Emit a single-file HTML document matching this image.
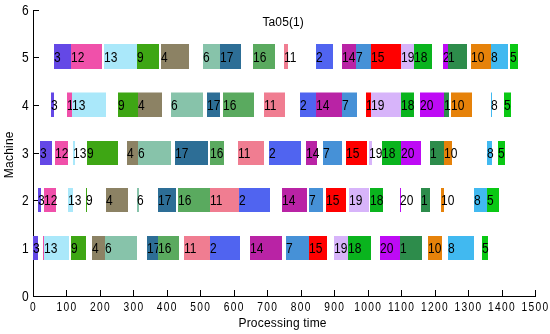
<!DOCTYPE html>
<html><head><meta charset="utf-8"><style>
html,body{margin:0;padding:0;background:#fff;}
body{width:550px;height:334px;overflow:hidden;}
svg{display:block;}
text{font-family:"Liberation Sans",sans-serif;font-size:12px;fill:#000;}
</style></head><body>
<svg width="550" height="334" viewBox="0 0 550 334">
<rect x="0" y="0" width="550" height="334" fill="#fff"/>
<g shape-rendering="crispEdges">
<rect x="33" y="10" width="1" height="287" fill="#000"/>
<rect x="33" y="296" width="503" height="1" fill="#000"/>
<rect x="33" y="296" width="6" height="1" fill="#000"/>
<text transform="translate(28.6,301) scale(1,1.15)" text-anchor="end">0</text>
<rect x="33" y="248" width="6" height="1" fill="#000"/>
<text transform="translate(28.6,253) scale(1,1.15)" text-anchor="end">1</text>
<rect x="33" y="200" width="6" height="1" fill="#000"/>
<text transform="translate(28.6,205) scale(1,1.15)" text-anchor="end">2</text>
<rect x="33" y="153" width="6" height="1" fill="#000"/>
<text transform="translate(28.6,158) scale(1,1.15)" text-anchor="end">3</text>
<rect x="33" y="105" width="6" height="1" fill="#000"/>
<text transform="translate(28.6,110) scale(1,1.15)" text-anchor="end">4</text>
<rect x="33" y="57" width="6" height="1" fill="#000"/>
<text transform="translate(28.6,62) scale(1,1.15)" text-anchor="end">5</text>
<rect x="33" y="10" width="6" height="1" fill="#000"/>
<text transform="translate(28.6,15) scale(1,1.15)" text-anchor="end">6</text>
<rect x="33" y="290" width="1" height="6" fill="#000"/>
<text transform="translate(33.50,311) scale(0.85,1)" text-anchor="middle" letter-spacing="1.57">0</text>
<rect x="66" y="290" width="1" height="6" fill="#000"/>
<text transform="translate(66.97,311) scale(0.85,1)" text-anchor="middle" letter-spacing="1.57">100</text>
<rect x="100" y="290" width="1" height="6" fill="#000"/>
<text transform="translate(100.43,311) scale(0.85,1)" text-anchor="middle" letter-spacing="1.57">200</text>
<rect x="133" y="290" width="1" height="6" fill="#000"/>
<text transform="translate(133.90,311) scale(0.85,1)" text-anchor="middle" letter-spacing="1.57">300</text>
<rect x="167" y="290" width="1" height="6" fill="#000"/>
<text transform="translate(167.37,311) scale(0.85,1)" text-anchor="middle" letter-spacing="1.57">400</text>
<rect x="200" y="290" width="1" height="6" fill="#000"/>
<text transform="translate(200.83,311) scale(0.85,1)" text-anchor="middle" letter-spacing="1.57">500</text>
<rect x="234" y="290" width="1" height="6" fill="#000"/>
<text transform="translate(234.30,311) scale(0.85,1)" text-anchor="middle" letter-spacing="1.57">600</text>
<rect x="267" y="290" width="1" height="6" fill="#000"/>
<text transform="translate(267.77,311) scale(0.85,1)" text-anchor="middle" letter-spacing="1.57">700</text>
<rect x="301" y="290" width="1" height="6" fill="#000"/>
<text transform="translate(301.23,311) scale(0.85,1)" text-anchor="middle" letter-spacing="1.57">800</text>
<rect x="334" y="290" width="1" height="6" fill="#000"/>
<text transform="translate(334.70,311) scale(0.85,1)" text-anchor="middle" letter-spacing="1.57">900</text>
<rect x="368" y="290" width="1" height="6" fill="#000"/>
<text transform="translate(368.17,311) scale(0.85,1)" text-anchor="middle" letter-spacing="1.57">1000</text>
<rect x="401" y="290" width="1" height="6" fill="#000"/>
<text transform="translate(401.63,311) scale(0.85,1)" text-anchor="middle" letter-spacing="1.57">1100</text>
<rect x="435" y="290" width="1" height="6" fill="#000"/>
<text transform="translate(435.10,311) scale(0.85,1)" text-anchor="middle" letter-spacing="1.57">1200</text>
<rect x="468" y="290" width="1" height="6" fill="#000"/>
<text transform="translate(468.57,311) scale(0.85,1)" text-anchor="middle" letter-spacing="1.57">1300</text>
<rect x="502" y="290" width="1" height="6" fill="#000"/>
<text transform="translate(502.03,311) scale(0.85,1)" text-anchor="middle" letter-spacing="1.57">1400</text>
<rect x="535" y="290" width="1" height="6" fill="#000"/>
<text transform="translate(535.50,311) scale(0.85,1)" text-anchor="middle" letter-spacing="1.57">1500</text>
</g>
<g>
<rect x="54" y="44.00" width="17" height="25.0" fill="#6448E6"/>
<text transform="translate(54,62) scale(1,1.15)">3</text>
<rect x="71" y="44.00" width="31" height="25.0" fill="#F050AA"/>
<text transform="translate(71,62) scale(1,1.15)">12</text>
<rect x="104" y="44.00" width="33" height="25.0" fill="#AAE8FA"/>
<text transform="translate(104,62) scale(1,1.15)">13</text>
<rect x="137" y="44.00" width="22" height="25.0" fill="#3EA614"/>
<text transform="translate(137,62) scale(1,1.15)">9</text>
<rect x="161" y="44.00" width="28" height="25.0" fill="#8C8264"/>
<text transform="translate(161,62) scale(1,1.15)">4</text>
<rect x="203" y="44.00" width="17" height="25.0" fill="#87C3AA"/>
<text transform="translate(203,62) scale(1,1.15)">6</text>
<rect x="220" y="44.00" width="21" height="25.0" fill="#2D6E96"/>
<text transform="translate(220,62) scale(1,1.15)">17</text>
<rect x="253" y="44.00" width="22" height="25.0" fill="#5AAA5F"/>
<text transform="translate(253,62) scale(1,1.15)">16</text>
<rect x="284" y="44.00" width="4" height="25.0" fill="#F07D91"/>
<text transform="translate(284,62) scale(1,1.15)">11</text>
<rect x="316" y="44.00" width="17" height="25.0" fill="#5064F0"/>
<text transform="translate(316,62) scale(1,1.15)">2</text>
<rect x="342" y="44.00" width="14" height="25.0" fill="#B923A5"/>
<text transform="translate(342,62) scale(1,1.15)">14</text>
<rect x="356" y="44.00" width="15" height="25.0" fill="#4691D7"/>
<text transform="translate(356,62) scale(1,1.15)">7</text>
<rect x="371" y="44.00" width="30" height="25.0" fill="#FF0000"/>
<text transform="translate(371,62) scale(1,1.15)">15</text>
<rect x="401" y="44.00" width="13" height="25.0" fill="#D7B4FA"/>
<text transform="translate(401,62) scale(1,1.15)">19</text>
<rect x="414" y="44.00" width="18" height="25.0" fill="#0AB41E"/>
<text transform="translate(414,62) scale(1,1.15)">18</text>
<rect x="443" y="44.00" width="5" height="25.0" fill="#BE0AF5"/>
<text transform="translate(443,62) scale(1,1.15)">20</text>
<rect x="448" y="44.00" width="19" height="25.0" fill="#2D8C4B"/>
<text transform="translate(448,62) scale(1,1.15)">1</text>
<rect x="471" y="44.00" width="20" height="25.0" fill="#E6820A"/>
<text transform="translate(471,62) scale(1,1.15)">10</text>
<rect x="491" y="44.00" width="17" height="25.0" fill="#41B9F0"/>
<text transform="translate(491,62) scale(1,1.15)">8</text>
<rect x="510" y="44.00" width="8" height="25.0" fill="#0AC814"/>
<text transform="translate(510,62) scale(1,1.15)">5</text>
<rect x="51" y="92.50" width="3" height="24.5" fill="#6448E6"/>
<text transform="translate(51,110) scale(1,1.15)">3</text>
<rect x="67" y="92.50" width="5" height="24.5" fill="#F050AA"/>
<text transform="translate(67,110) scale(1,1.15)">12</text>
<rect x="72" y="92.50" width="34" height="24.5" fill="#AAE8FA"/>
<text transform="translate(72,110) scale(1,1.15)">13</text>
<rect x="118" y="92.50" width="20" height="24.5" fill="#3EA614"/>
<text transform="translate(118,110) scale(1,1.15)">9</text>
<rect x="138" y="92.50" width="24" height="24.5" fill="#8C8264"/>
<text transform="translate(138,110) scale(1,1.15)">4</text>
<rect x="171" y="92.50" width="32" height="24.5" fill="#87C3AA"/>
<text transform="translate(171,110) scale(1,1.15)">6</text>
<rect x="207" y="92.50" width="13" height="24.5" fill="#2D6E96"/>
<text transform="translate(207,110) scale(1,1.15)">17</text>
<rect x="223" y="92.50" width="31" height="24.5" fill="#5AAA5F"/>
<text transform="translate(223,110) scale(1,1.15)">16</text>
<rect x="264" y="92.50" width="21" height="24.5" fill="#F07D91"/>
<text transform="translate(264,110) scale(1,1.15)">11</text>
<rect x="300" y="92.50" width="16" height="24.5" fill="#5064F0"/>
<text transform="translate(300,110) scale(1,1.15)">2</text>
<rect x="316" y="92.50" width="26" height="24.5" fill="#B923A5"/>
<text transform="translate(316,110) scale(1,1.15)">14</text>
<rect x="342" y="92.50" width="15" height="24.5" fill="#4691D7"/>
<text transform="translate(342,110) scale(1,1.15)">7</text>
<rect x="366" y="92.50" width="5" height="24.5" fill="#FF0000"/>
<text transform="translate(366,110) scale(1,1.15)">15</text>
<rect x="371" y="92.50" width="30" height="24.5" fill="#D7B4FA"/>
<text transform="translate(371,110) scale(1,1.15)">19</text>
<rect x="401" y="92.50" width="13" height="24.5" fill="#0AB41E"/>
<text transform="translate(401,110) scale(1,1.15)">18</text>
<rect x="420" y="92.50" width="24" height="24.5" fill="#BE0AF5"/>
<text transform="translate(420,110) scale(1,1.15)">20</text>
<rect x="444" y="92.50" width="5" height="24.5" fill="#2D8C4B"/>
<text transform="translate(444,110) scale(1,1.15)">1</text>
<rect x="451" y="92.50" width="21" height="24.5" fill="#E6820A"/>
<text transform="translate(451,110) scale(1,1.15)">10</text>
<rect x="491" y="92.50" width="1" height="24.5" fill="#41B9F0"/>
<text transform="translate(491,110) scale(1,1.15)">8</text>
<rect x="504" y="92.50" width="7" height="24.5" fill="#0AC814"/>
<text transform="translate(504,110) scale(1,1.15)">5</text>
<rect x="40" y="141.00" width="12" height="24.0" fill="#6448E6"/>
<text transform="translate(40,158) scale(1,1.15)">3</text>
<rect x="55" y="141.00" width="13" height="24.0" fill="#F050AA"/>
<text transform="translate(55,158) scale(1,1.15)">12</text>
<rect x="73" y="141.00" width="2" height="24.0" fill="#AAE8FA"/>
<text transform="translate(73,158) scale(1,1.15)">13</text>
<rect x="87" y="141.00" width="31" height="24.0" fill="#3EA614"/>
<text transform="translate(87,158) scale(1,1.15)">9</text>
<rect x="127" y="141.00" width="11" height="24.0" fill="#8C8264"/>
<text transform="translate(127,158) scale(1,1.15)">4</text>
<rect x="138" y="141.00" width="33" height="24.0" fill="#87C3AA"/>
<text transform="translate(138,158) scale(1,1.15)">6</text>
<rect x="175" y="141.00" width="33" height="24.0" fill="#2D6E96"/>
<text transform="translate(175,158) scale(1,1.15)">17</text>
<rect x="210" y="141.00" width="14" height="24.0" fill="#5AAA5F"/>
<text transform="translate(210,158) scale(1,1.15)">16</text>
<rect x="238" y="141.00" width="26" height="24.0" fill="#F07D91"/>
<text transform="translate(238,158) scale(1,1.15)">11</text>
<rect x="269" y="141.00" width="32" height="24.0" fill="#5064F0"/>
<text transform="translate(269,158) scale(1,1.15)">2</text>
<rect x="306" y="141.00" width="11" height="24.0" fill="#B923A5"/>
<text transform="translate(306,158) scale(1,1.15)">14</text>
<rect x="323" y="141.00" width="19" height="24.0" fill="#4691D7"/>
<text transform="translate(323,158) scale(1,1.15)">7</text>
<rect x="346" y="141.00" width="21" height="24.0" fill="#FF0000"/>
<text transform="translate(346,158) scale(1,1.15)">15</text>
<rect x="369" y="141.00" width="3" height="24.0" fill="#D7B4FA"/>
<text transform="translate(369,158) scale(1,1.15)">19</text>
<rect x="382" y="141.00" width="19" height="24.0" fill="#0AB41E"/>
<text transform="translate(382,158) scale(1,1.15)">18</text>
<rect x="401" y="141.00" width="20" height="24.0" fill="#BE0AF5"/>
<text transform="translate(401,158) scale(1,1.15)">20</text>
<rect x="430" y="141.00" width="14" height="24.0" fill="#2D8C4B"/>
<text transform="translate(430,158) scale(1,1.15)">1</text>
<rect x="444" y="141.00" width="8" height="24.0" fill="#E6820A"/>
<text transform="translate(444,158) scale(1,1.15)">10</text>
<rect x="487" y="141.00" width="5" height="24.0" fill="#41B9F0"/>
<text transform="translate(487,158) scale(1,1.15)">8</text>
<rect x="498" y="141.00" width="7" height="24.0" fill="#0AC814"/>
<text transform="translate(498,158) scale(1,1.15)">5</text>
<rect x="38" y="188.00" width="3" height="24.0" fill="#6448E6"/>
<text transform="translate(38,205) scale(1,1.15)">3</text>
<rect x="44" y="188.00" width="12" height="24.0" fill="#F050AA"/>
<text transform="translate(44,205) scale(1,1.15)">12</text>
<rect x="68" y="188.00" width="5" height="24.0" fill="#AAE8FA"/>
<text transform="translate(68,205) scale(1,1.15)">13</text>
<rect x="86" y="188.00" width="1" height="24.0" fill="#3EA614"/>
<text transform="translate(86,205) scale(1,1.15)">9</text>
<rect x="106" y="188.00" width="22" height="24.0" fill="#8C8264"/>
<text transform="translate(106,205) scale(1,1.15)">4</text>
<rect x="137" y="188.00" width="2" height="24.0" fill="#87C3AA"/>
<text transform="translate(137,205) scale(1,1.15)">6</text>
<rect x="158" y="188.00" width="18" height="24.0" fill="#2D6E96"/>
<text transform="translate(158,205) scale(1,1.15)">17</text>
<rect x="178" y="188.00" width="32" height="24.0" fill="#5AAA5F"/>
<text transform="translate(178,205) scale(1,1.15)">16</text>
<rect x="210" y="188.00" width="29" height="24.0" fill="#F07D91"/>
<text transform="translate(210,205) scale(1,1.15)">11</text>
<rect x="239" y="188.00" width="31" height="24.0" fill="#5064F0"/>
<text transform="translate(239,205) scale(1,1.15)">2</text>
<rect x="282" y="188.00" width="25" height="24.0" fill="#B923A5"/>
<text transform="translate(282,205) scale(1,1.15)">14</text>
<rect x="309" y="188.00" width="14" height="24.0" fill="#4691D7"/>
<text transform="translate(309,205) scale(1,1.15)">7</text>
<rect x="326" y="188.00" width="20" height="24.0" fill="#FF0000"/>
<text transform="translate(326,205) scale(1,1.15)">15</text>
<rect x="349" y="188.00" width="20" height="24.0" fill="#D7B4FA"/>
<text transform="translate(349,205) scale(1,1.15)">19</text>
<rect x="370" y="188.00" width="13" height="24.0" fill="#0AB41E"/>
<text transform="translate(370,205) scale(1,1.15)">18</text>
<rect x="400" y="188.00" width="1" height="24.0" fill="#BE0AF5"/>
<text transform="translate(400,205) scale(1,1.15)">20</text>
<rect x="421" y="188.00" width="9" height="24.0" fill="#2D8C4B"/>
<text transform="translate(421,205) scale(1,1.15)">1</text>
<rect x="441" y="188.00" width="3" height="24.0" fill="#E6820A"/>
<text transform="translate(441,205) scale(1,1.15)">10</text>
<rect x="474" y="188.00" width="13" height="24.0" fill="#41B9F0"/>
<text transform="translate(474,205) scale(1,1.15)">8</text>
<rect x="487" y="188.00" width="12" height="24.0" fill="#0AC814"/>
<text transform="translate(487,205) scale(1,1.15)">5</text>
<rect x="33" y="236.00" width="5" height="24.0" fill="#6448E6"/>
<text transform="translate(33,253) scale(1,1.15)">3</text>
<rect x="43" y="236.00" width="1" height="24.0" fill="#F050AA"/>
<text transform="translate(43,253) scale(1,1.15)">12</text>
<rect x="44" y="236.00" width="25" height="24.0" fill="#AAE8FA"/>
<text transform="translate(44,253) scale(1,1.15)">13</text>
<rect x="71" y="236.00" width="15" height="24.0" fill="#3EA614"/>
<text transform="translate(71,253) scale(1,1.15)">9</text>
<rect x="92" y="236.00" width="13" height="24.0" fill="#8C8264"/>
<text transform="translate(92,253) scale(1,1.15)">4</text>
<rect x="105" y="236.00" width="32" height="24.0" fill="#87C3AA"/>
<text transform="translate(105,253) scale(1,1.15)">6</text>
<rect x="147" y="236.00" width="11" height="24.0" fill="#2D6E96"/>
<text transform="translate(147,253) scale(1,1.15)">17</text>
<rect x="158" y="236.00" width="21" height="24.0" fill="#5AAA5F"/>
<text transform="translate(158,253) scale(1,1.15)">16</text>
<rect x="184" y="236.00" width="26" height="24.0" fill="#F07D91"/>
<text transform="translate(184,253) scale(1,1.15)">11</text>
<rect x="210" y="236.00" width="30" height="24.0" fill="#5064F0"/>
<text transform="translate(210,253) scale(1,1.15)">2</text>
<rect x="250" y="236.00" width="32" height="24.0" fill="#B923A5"/>
<text transform="translate(250,253) scale(1,1.15)">14</text>
<rect x="286" y="236.00" width="23" height="24.0" fill="#4691D7"/>
<text transform="translate(286,253) scale(1,1.15)">7</text>
<rect x="309" y="236.00" width="18" height="24.0" fill="#FF0000"/>
<text transform="translate(309,253) scale(1,1.15)">15</text>
<rect x="334" y="236.00" width="14" height="24.0" fill="#D7B4FA"/>
<text transform="translate(334,253) scale(1,1.15)">19</text>
<rect x="348" y="236.00" width="23" height="24.0" fill="#0AB41E"/>
<text transform="translate(348,253) scale(1,1.15)">18</text>
<rect x="380" y="236.00" width="20" height="24.0" fill="#BE0AF5"/>
<text transform="translate(380,253) scale(1,1.15)">20</text>
<rect x="400" y="236.00" width="22" height="24.0" fill="#2D8C4B"/>
<text transform="translate(400,253) scale(1,1.15)">1</text>
<rect x="428" y="236.00" width="14" height="24.0" fill="#E6820A"/>
<text transform="translate(428,253) scale(1,1.15)">10</text>
<rect x="448" y="236.00" width="26" height="24.0" fill="#41B9F0"/>
<text transform="translate(448,253) scale(1,1.15)">8</text>
<rect x="482" y="236.00" width="6" height="24.0" fill="#0AC814"/>
<text transform="translate(482,253) scale(1,1.15)">5</text>
</g>
<text x="283.2" y="26" text-anchor="middle" letter-spacing="0.1">Ta05(1)</text>
<text x="282.6" y="327" text-anchor="middle" letter-spacing="0.19">Processing time</text>
<text transform="translate(12.6,154.7) rotate(-90)" text-anchor="middle" letter-spacing="0.22">Machine</text>
</svg>
</body></html>
